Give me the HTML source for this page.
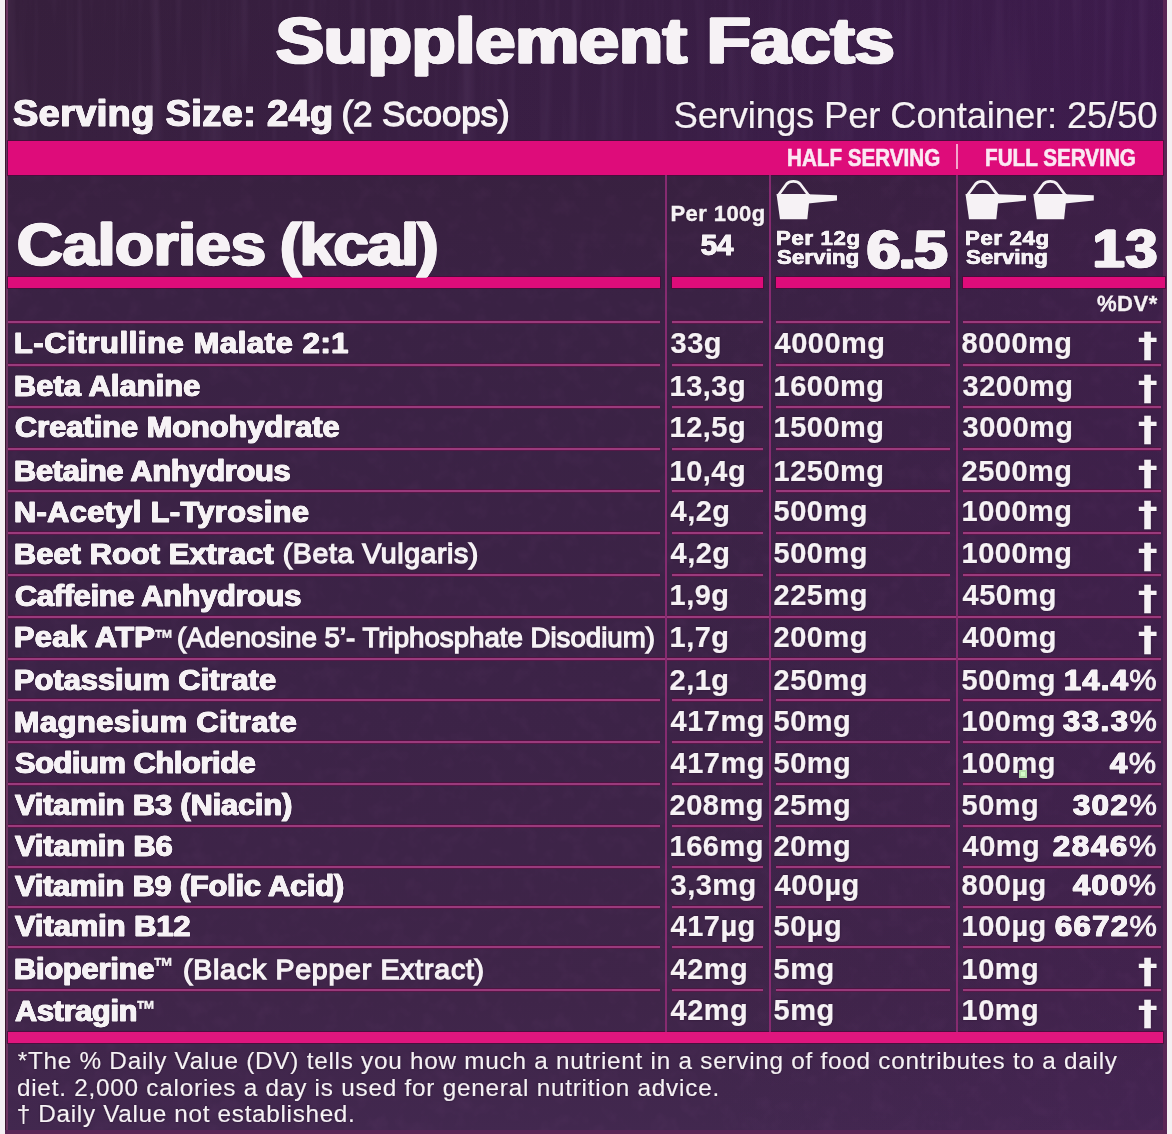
<!DOCTYPE html>
<html><head><meta charset="utf-8"><title>Supplement Facts</title>
<style>
html,body{margin:0;padding:0;}
body{width:1172px;height:1134px;overflow:hidden;background:#f4f0f3;position:relative;font-family:"Liberation Sans",Arial,sans-serif;}
#panel{position:absolute;left:5px;top:0;width:1162px;height:1134px;overflow:hidden;
 background:linear-gradient(180deg,#361f3c 0px,#38203f 140px,#3a2244 300px,#3c2347 700px,#3f2549 1000px,#42284f 1134px);}
#bg1{position:absolute;left:0;top:0;width:1162px;height:1134px;
 background:
  linear-gradient(90deg, rgba(0,0,0,0) 0%, rgba(0,0,0,0) 60%, rgba(80,20,100,0.16) 100%);}
.t{position:absolute;white-space:nowrap;color:#f6f2f5;-webkit-text-stroke-color:#f6f2f5;}
.p{color:#fbe9f3;-webkit-text-stroke-color:#fbe9f3;}
.r{position:absolute;}
.pc{font-weight:400;-webkit-text-stroke-width:0.9px;text-shadow:none;}
</style></head>
<body>
<div id="panel"><div id="bg1"></div>
<svg class="r" style="left:0;top:0" width="1162" height="1134"><defs>
<filter id="fs" x="0" y="0" width="100%" height="100%"><feTurbulence type="fractalNoise" baseFrequency="0.09 0.004" numOctaves="2" seed="7"/><feColorMatrix type="matrix" values="0 0 0 0 0.55  0 0 0 0 0.35  0 0 0 0 0.65  0 0 0 1.1 -0.5"/></filter>
<filter id="fn" x="0" y="0" width="100%" height="100%"><feTurbulence type="fractalNoise" baseFrequency="0.06" numOctaves="3" seed="3"/><feColorMatrix type="matrix" values="0 0 0 0 0.6  0 0 0 0 0.2  0 0 0 0 0.6  0 0 0 0.9 -0.42"/></filter>
</defs>
<rect x="0" y="0" width="1162" height="140" filter="url(#fs)" opacity="0.16"/>
<rect x="0" y="140" width="1162" height="994" filter="url(#fn)" opacity="0.10"/>
</svg><div class="r" style="left:0;top:0;width:1162px;height:141px;background:linear-gradient(90deg,rgba(70,20,110,0) 0%,rgba(70,20,110,0.10) 40%,rgba(70,20,110,0.2) 75%,rgba(70,20,110,0.22) 100%)"></div></div>
<div class="r" style="left:5px;top:0;width:1px;height:1134px;background:#3a1830"></div>
<div class="r" style="left:6px;top:0;width:2px;height:1134px;background:#6a3560"></div>
<div class="r" style="left:1162.5px;top:0;width:4.5px;height:1134px;background:#5a2656"></div>
<div class="r" style="left:5px;top:1130px;width:1162px;height:4px;background:#5a2656"></div>
<div class="r" style="left:8px;top:140.6px;width:1154.50px;height:34.40px;background:#de0c7a;box-shadow:0 0 0 1px rgba(78,8,58,0.75);"></div>
<div class="r" style="left:8px;top:276.5px;width:652.00px;height:11.00px;background:#de0c7a;box-shadow:0 0 0 1px rgba(78,8,58,0.75);"></div>
<div class="r" style="left:672px;top:276.5px;width:91.00px;height:11.00px;background:#de0c7a;box-shadow:0 0 0 1px rgba(78,8,58,0.75);"></div>
<div class="r" style="left:775.5px;top:276.5px;width:174.50px;height:11.00px;background:#de0c7a;box-shadow:0 0 0 1px rgba(78,8,58,0.75);"></div>
<div class="r" style="left:962.5px;top:276.5px;width:202.00px;height:11.00px;background:#de0c7a;box-shadow:0 0 0 1px rgba(78,8,58,0.75);"></div>
<div class="r" style="left:8px;top:1032px;width:1155.00px;height:11.00px;background:#e0167e;box-shadow:0 0 0 1px rgba(78,8,58,0.75);"></div>
<div class="r" style="left:8px;top:320px;width:652.00px;height:1.00px;background:#4e1442;"></div>
<div class="r" style="left:8px;top:321px;width:652.00px;height:2.00px;background:#9a3a7c;"></div>
<div class="r" style="left:8px;top:323px;width:652.00px;height:1.00px;background:#581748;"></div>
<div class="r" style="left:671.5px;top:320px;width:91.50px;height:1.00px;background:#4e1442;"></div>
<div class="r" style="left:671.5px;top:321px;width:91.50px;height:2.00px;background:#9a3a7c;"></div>
<div class="r" style="left:671.5px;top:323px;width:91.50px;height:1.00px;background:#581748;"></div>
<div class="r" style="left:775.5px;top:320px;width:174.50px;height:1.00px;background:#4e1442;"></div>
<div class="r" style="left:775.5px;top:321px;width:174.50px;height:2.00px;background:#9a3a7c;"></div>
<div class="r" style="left:775.5px;top:323px;width:174.50px;height:1.00px;background:#581748;"></div>
<div class="r" style="left:962.5px;top:320px;width:198.50px;height:1.00px;background:#4e1442;"></div>
<div class="r" style="left:962.5px;top:321px;width:198.50px;height:2.00px;background:#9a3a7c;"></div>
<div class="r" style="left:962.5px;top:323px;width:198.50px;height:1.00px;background:#581748;"></div>
<div class="r" style="left:8px;top:363px;width:652.00px;height:1.00px;background:#4e1442;"></div>
<div class="r" style="left:8px;top:364px;width:652.00px;height:2.00px;background:#9a3a7c;"></div>
<div class="r" style="left:8px;top:366px;width:652.00px;height:1.00px;background:#581748;"></div>
<div class="r" style="left:671.5px;top:363px;width:91.50px;height:1.00px;background:#4e1442;"></div>
<div class="r" style="left:671.5px;top:364px;width:91.50px;height:2.00px;background:#9a3a7c;"></div>
<div class="r" style="left:671.5px;top:366px;width:91.50px;height:1.00px;background:#581748;"></div>
<div class="r" style="left:775.5px;top:363px;width:174.50px;height:1.00px;background:#4e1442;"></div>
<div class="r" style="left:775.5px;top:364px;width:174.50px;height:2.00px;background:#9a3a7c;"></div>
<div class="r" style="left:775.5px;top:366px;width:174.50px;height:1.00px;background:#581748;"></div>
<div class="r" style="left:962.5px;top:363px;width:198.50px;height:1.00px;background:#4e1442;"></div>
<div class="r" style="left:962.5px;top:364px;width:198.50px;height:2.00px;background:#9a3a7c;"></div>
<div class="r" style="left:962.5px;top:366px;width:198.50px;height:1.00px;background:#581748;"></div>
<div class="r" style="left:8px;top:405px;width:652.00px;height:1.00px;background:#4e1442;"></div>
<div class="r" style="left:8px;top:406px;width:652.00px;height:2.00px;background:#9a3a7c;"></div>
<div class="r" style="left:8px;top:408px;width:652.00px;height:1.00px;background:#581748;"></div>
<div class="r" style="left:671.5px;top:405px;width:91.50px;height:1.00px;background:#4e1442;"></div>
<div class="r" style="left:671.5px;top:406px;width:91.50px;height:2.00px;background:#9a3a7c;"></div>
<div class="r" style="left:671.5px;top:408px;width:91.50px;height:1.00px;background:#581748;"></div>
<div class="r" style="left:775.5px;top:405px;width:174.50px;height:1.00px;background:#4e1442;"></div>
<div class="r" style="left:775.5px;top:406px;width:174.50px;height:2.00px;background:#9a3a7c;"></div>
<div class="r" style="left:775.5px;top:408px;width:174.50px;height:1.00px;background:#581748;"></div>
<div class="r" style="left:962.5px;top:405px;width:198.50px;height:1.00px;background:#4e1442;"></div>
<div class="r" style="left:962.5px;top:406px;width:198.50px;height:2.00px;background:#9a3a7c;"></div>
<div class="r" style="left:962.5px;top:408px;width:198.50px;height:1.00px;background:#581748;"></div>
<div class="r" style="left:8px;top:447px;width:652.00px;height:1.00px;background:#4e1442;"></div>
<div class="r" style="left:8px;top:448px;width:652.00px;height:2.00px;background:#9a3a7c;"></div>
<div class="r" style="left:8px;top:450px;width:652.00px;height:1.00px;background:#581748;"></div>
<div class="r" style="left:671.5px;top:447px;width:91.50px;height:1.00px;background:#4e1442;"></div>
<div class="r" style="left:671.5px;top:448px;width:91.50px;height:2.00px;background:#9a3a7c;"></div>
<div class="r" style="left:671.5px;top:450px;width:91.50px;height:1.00px;background:#581748;"></div>
<div class="r" style="left:775.5px;top:447px;width:174.50px;height:1.00px;background:#4e1442;"></div>
<div class="r" style="left:775.5px;top:448px;width:174.50px;height:2.00px;background:#9a3a7c;"></div>
<div class="r" style="left:775.5px;top:450px;width:174.50px;height:1.00px;background:#581748;"></div>
<div class="r" style="left:962.5px;top:447px;width:198.50px;height:1.00px;background:#4e1442;"></div>
<div class="r" style="left:962.5px;top:448px;width:198.50px;height:2.00px;background:#9a3a7c;"></div>
<div class="r" style="left:962.5px;top:450px;width:198.50px;height:1.00px;background:#581748;"></div>
<div class="r" style="left:8px;top:489px;width:652.00px;height:1.00px;background:#4e1442;"></div>
<div class="r" style="left:8px;top:490px;width:652.00px;height:2.00px;background:#9a3a7c;"></div>
<div class="r" style="left:8px;top:492px;width:652.00px;height:1.00px;background:#581748;"></div>
<div class="r" style="left:671.5px;top:489px;width:91.50px;height:1.00px;background:#4e1442;"></div>
<div class="r" style="left:671.5px;top:490px;width:91.50px;height:2.00px;background:#9a3a7c;"></div>
<div class="r" style="left:671.5px;top:492px;width:91.50px;height:1.00px;background:#581748;"></div>
<div class="r" style="left:775.5px;top:489px;width:174.50px;height:1.00px;background:#4e1442;"></div>
<div class="r" style="left:775.5px;top:490px;width:174.50px;height:2.00px;background:#9a3a7c;"></div>
<div class="r" style="left:775.5px;top:492px;width:174.50px;height:1.00px;background:#581748;"></div>
<div class="r" style="left:962.5px;top:489px;width:198.50px;height:1.00px;background:#4e1442;"></div>
<div class="r" style="left:962.5px;top:490px;width:198.50px;height:2.00px;background:#9a3a7c;"></div>
<div class="r" style="left:962.5px;top:492px;width:198.50px;height:1.00px;background:#581748;"></div>
<div class="r" style="left:8px;top:531px;width:652.00px;height:1.00px;background:#4e1442;"></div>
<div class="r" style="left:8px;top:532px;width:652.00px;height:2.00px;background:#9a3a7c;"></div>
<div class="r" style="left:8px;top:534px;width:652.00px;height:1.00px;background:#581748;"></div>
<div class="r" style="left:671.5px;top:531px;width:91.50px;height:1.00px;background:#4e1442;"></div>
<div class="r" style="left:671.5px;top:532px;width:91.50px;height:2.00px;background:#9a3a7c;"></div>
<div class="r" style="left:671.5px;top:534px;width:91.50px;height:1.00px;background:#581748;"></div>
<div class="r" style="left:775.5px;top:531px;width:174.50px;height:1.00px;background:#4e1442;"></div>
<div class="r" style="left:775.5px;top:532px;width:174.50px;height:2.00px;background:#9a3a7c;"></div>
<div class="r" style="left:775.5px;top:534px;width:174.50px;height:1.00px;background:#581748;"></div>
<div class="r" style="left:962.5px;top:531px;width:198.50px;height:1.00px;background:#4e1442;"></div>
<div class="r" style="left:962.5px;top:532px;width:198.50px;height:2.00px;background:#9a3a7c;"></div>
<div class="r" style="left:962.5px;top:534px;width:198.50px;height:1.00px;background:#581748;"></div>
<div class="r" style="left:8px;top:573px;width:652.00px;height:1.00px;background:#4e1442;"></div>
<div class="r" style="left:8px;top:574px;width:652.00px;height:2.00px;background:#9a3a7c;"></div>
<div class="r" style="left:8px;top:576px;width:652.00px;height:1.00px;background:#581748;"></div>
<div class="r" style="left:671.5px;top:573px;width:91.50px;height:1.00px;background:#4e1442;"></div>
<div class="r" style="left:671.5px;top:574px;width:91.50px;height:2.00px;background:#9a3a7c;"></div>
<div class="r" style="left:671.5px;top:576px;width:91.50px;height:1.00px;background:#581748;"></div>
<div class="r" style="left:775.5px;top:573px;width:174.50px;height:1.00px;background:#4e1442;"></div>
<div class="r" style="left:775.5px;top:574px;width:174.50px;height:2.00px;background:#9a3a7c;"></div>
<div class="r" style="left:775.5px;top:576px;width:174.50px;height:1.00px;background:#581748;"></div>
<div class="r" style="left:962.5px;top:573px;width:198.50px;height:1.00px;background:#4e1442;"></div>
<div class="r" style="left:962.5px;top:574px;width:198.50px;height:2.00px;background:#9a3a7c;"></div>
<div class="r" style="left:962.5px;top:576px;width:198.50px;height:1.00px;background:#581748;"></div>
<div class="r" style="left:8px;top:615px;width:1153.00px;height:1.00px;background:#4e1442;"></div>
<div class="r" style="left:8px;top:616px;width:1153.00px;height:2.00px;background:#9a3a7c;"></div>
<div class="r" style="left:8px;top:618px;width:1153.00px;height:1.00px;background:#581748;"></div>
<div class="r" style="left:8px;top:657px;width:1153.00px;height:1.00px;background:#4e1442;"></div>
<div class="r" style="left:8px;top:658px;width:1153.00px;height:2.00px;background:#9a3a7c;"></div>
<div class="r" style="left:8px;top:660px;width:1153.00px;height:1.00px;background:#581748;"></div>
<div class="r" style="left:8px;top:698px;width:652.00px;height:1.00px;background:#4e1442;"></div>
<div class="r" style="left:8px;top:699px;width:652.00px;height:2.00px;background:#9a3a7c;"></div>
<div class="r" style="left:8px;top:701px;width:652.00px;height:1.00px;background:#581748;"></div>
<div class="r" style="left:671.5px;top:698px;width:91.50px;height:1.00px;background:#4e1442;"></div>
<div class="r" style="left:671.5px;top:699px;width:91.50px;height:2.00px;background:#9a3a7c;"></div>
<div class="r" style="left:671.5px;top:701px;width:91.50px;height:1.00px;background:#581748;"></div>
<div class="r" style="left:775.5px;top:698px;width:174.50px;height:1.00px;background:#4e1442;"></div>
<div class="r" style="left:775.5px;top:699px;width:174.50px;height:2.00px;background:#9a3a7c;"></div>
<div class="r" style="left:775.5px;top:701px;width:174.50px;height:1.00px;background:#581748;"></div>
<div class="r" style="left:962.5px;top:698px;width:198.50px;height:1.00px;background:#4e1442;"></div>
<div class="r" style="left:962.5px;top:699px;width:198.50px;height:2.00px;background:#9a3a7c;"></div>
<div class="r" style="left:962.5px;top:701px;width:198.50px;height:1.00px;background:#581748;"></div>
<div class="r" style="left:8px;top:740px;width:652.00px;height:1.00px;background:#4e1442;"></div>
<div class="r" style="left:8px;top:741px;width:652.00px;height:2.00px;background:#9a3a7c;"></div>
<div class="r" style="left:8px;top:743px;width:652.00px;height:1.00px;background:#581748;"></div>
<div class="r" style="left:671.5px;top:740px;width:91.50px;height:1.00px;background:#4e1442;"></div>
<div class="r" style="left:671.5px;top:741px;width:91.50px;height:2.00px;background:#9a3a7c;"></div>
<div class="r" style="left:671.5px;top:743px;width:91.50px;height:1.00px;background:#581748;"></div>
<div class="r" style="left:775.5px;top:740px;width:174.50px;height:1.00px;background:#4e1442;"></div>
<div class="r" style="left:775.5px;top:741px;width:174.50px;height:2.00px;background:#9a3a7c;"></div>
<div class="r" style="left:775.5px;top:743px;width:174.50px;height:1.00px;background:#581748;"></div>
<div class="r" style="left:962.5px;top:740px;width:198.50px;height:1.00px;background:#4e1442;"></div>
<div class="r" style="left:962.5px;top:741px;width:198.50px;height:2.00px;background:#9a3a7c;"></div>
<div class="r" style="left:962.5px;top:743px;width:198.50px;height:1.00px;background:#581748;"></div>
<div class="r" style="left:8px;top:782px;width:652.00px;height:1.00px;background:#4e1442;"></div>
<div class="r" style="left:8px;top:783px;width:652.00px;height:2.00px;background:#9a3a7c;"></div>
<div class="r" style="left:8px;top:785px;width:652.00px;height:1.00px;background:#581748;"></div>
<div class="r" style="left:671.5px;top:782px;width:91.50px;height:1.00px;background:#4e1442;"></div>
<div class="r" style="left:671.5px;top:783px;width:91.50px;height:2.00px;background:#9a3a7c;"></div>
<div class="r" style="left:671.5px;top:785px;width:91.50px;height:1.00px;background:#581748;"></div>
<div class="r" style="left:775.5px;top:782px;width:174.50px;height:1.00px;background:#4e1442;"></div>
<div class="r" style="left:775.5px;top:783px;width:174.50px;height:2.00px;background:#9a3a7c;"></div>
<div class="r" style="left:775.5px;top:785px;width:174.50px;height:1.00px;background:#581748;"></div>
<div class="r" style="left:962.5px;top:782px;width:198.50px;height:1.00px;background:#4e1442;"></div>
<div class="r" style="left:962.5px;top:783px;width:198.50px;height:2.00px;background:#9a3a7c;"></div>
<div class="r" style="left:962.5px;top:785px;width:198.50px;height:1.00px;background:#581748;"></div>
<div class="r" style="left:8px;top:824px;width:652.00px;height:1.00px;background:#4e1442;"></div>
<div class="r" style="left:8px;top:825px;width:652.00px;height:2.00px;background:#9a3a7c;"></div>
<div class="r" style="left:8px;top:827px;width:652.00px;height:1.00px;background:#581748;"></div>
<div class="r" style="left:671.5px;top:824px;width:91.50px;height:1.00px;background:#4e1442;"></div>
<div class="r" style="left:671.5px;top:825px;width:91.50px;height:2.00px;background:#9a3a7c;"></div>
<div class="r" style="left:671.5px;top:827px;width:91.50px;height:1.00px;background:#581748;"></div>
<div class="r" style="left:775.5px;top:824px;width:174.50px;height:1.00px;background:#4e1442;"></div>
<div class="r" style="left:775.5px;top:825px;width:174.50px;height:2.00px;background:#9a3a7c;"></div>
<div class="r" style="left:775.5px;top:827px;width:174.50px;height:1.00px;background:#581748;"></div>
<div class="r" style="left:962.5px;top:824px;width:198.50px;height:1.00px;background:#4e1442;"></div>
<div class="r" style="left:962.5px;top:825px;width:198.50px;height:2.00px;background:#9a3a7c;"></div>
<div class="r" style="left:962.5px;top:827px;width:198.50px;height:1.00px;background:#581748;"></div>
<div class="r" style="left:8px;top:865px;width:652.00px;height:1.00px;background:#4e1442;"></div>
<div class="r" style="left:8px;top:866px;width:652.00px;height:2.00px;background:#9a3a7c;"></div>
<div class="r" style="left:8px;top:868px;width:652.00px;height:1.00px;background:#581748;"></div>
<div class="r" style="left:671.5px;top:865px;width:91.50px;height:1.00px;background:#4e1442;"></div>
<div class="r" style="left:671.5px;top:866px;width:91.50px;height:2.00px;background:#9a3a7c;"></div>
<div class="r" style="left:671.5px;top:868px;width:91.50px;height:1.00px;background:#581748;"></div>
<div class="r" style="left:775.5px;top:865px;width:174.50px;height:1.00px;background:#4e1442;"></div>
<div class="r" style="left:775.5px;top:866px;width:174.50px;height:2.00px;background:#9a3a7c;"></div>
<div class="r" style="left:775.5px;top:868px;width:174.50px;height:1.00px;background:#581748;"></div>
<div class="r" style="left:962.5px;top:865px;width:198.50px;height:1.00px;background:#4e1442;"></div>
<div class="r" style="left:962.5px;top:866px;width:198.50px;height:2.00px;background:#9a3a7c;"></div>
<div class="r" style="left:962.5px;top:868px;width:198.50px;height:1.00px;background:#581748;"></div>
<div class="r" style="left:8px;top:905px;width:652.00px;height:1.00px;background:#4e1442;"></div>
<div class="r" style="left:8px;top:906px;width:652.00px;height:2.00px;background:#9a3a7c;"></div>
<div class="r" style="left:8px;top:908px;width:652.00px;height:1.00px;background:#581748;"></div>
<div class="r" style="left:671.5px;top:905px;width:91.50px;height:1.00px;background:#4e1442;"></div>
<div class="r" style="left:671.5px;top:906px;width:91.50px;height:2.00px;background:#9a3a7c;"></div>
<div class="r" style="left:671.5px;top:908px;width:91.50px;height:1.00px;background:#581748;"></div>
<div class="r" style="left:775.5px;top:905px;width:174.50px;height:1.00px;background:#4e1442;"></div>
<div class="r" style="left:775.5px;top:906px;width:174.50px;height:2.00px;background:#9a3a7c;"></div>
<div class="r" style="left:775.5px;top:908px;width:174.50px;height:1.00px;background:#581748;"></div>
<div class="r" style="left:962.5px;top:905px;width:198.50px;height:1.00px;background:#4e1442;"></div>
<div class="r" style="left:962.5px;top:906px;width:198.50px;height:2.00px;background:#9a3a7c;"></div>
<div class="r" style="left:962.5px;top:908px;width:198.50px;height:1.00px;background:#581748;"></div>
<div class="r" style="left:8px;top:945px;width:652.00px;height:1.00px;background:#4e1442;"></div>
<div class="r" style="left:8px;top:946px;width:652.00px;height:2.00px;background:#9a3a7c;"></div>
<div class="r" style="left:8px;top:948px;width:652.00px;height:1.00px;background:#581748;"></div>
<div class="r" style="left:671.5px;top:945px;width:91.50px;height:1.00px;background:#4e1442;"></div>
<div class="r" style="left:671.5px;top:946px;width:91.50px;height:2.00px;background:#9a3a7c;"></div>
<div class="r" style="left:671.5px;top:948px;width:91.50px;height:1.00px;background:#581748;"></div>
<div class="r" style="left:775.5px;top:945px;width:174.50px;height:1.00px;background:#4e1442;"></div>
<div class="r" style="left:775.5px;top:946px;width:174.50px;height:2.00px;background:#9a3a7c;"></div>
<div class="r" style="left:775.5px;top:948px;width:174.50px;height:1.00px;background:#581748;"></div>
<div class="r" style="left:962.5px;top:945px;width:198.50px;height:1.00px;background:#4e1442;"></div>
<div class="r" style="left:962.5px;top:946px;width:198.50px;height:2.00px;background:#9a3a7c;"></div>
<div class="r" style="left:962.5px;top:948px;width:198.50px;height:1.00px;background:#581748;"></div>
<div class="r" style="left:8px;top:988px;width:652.00px;height:1.00px;background:#4e1442;"></div>
<div class="r" style="left:8px;top:989px;width:652.00px;height:2.00px;background:#9a3a7c;"></div>
<div class="r" style="left:8px;top:991px;width:652.00px;height:1.00px;background:#581748;"></div>
<div class="r" style="left:671.5px;top:988px;width:91.50px;height:1.00px;background:#4e1442;"></div>
<div class="r" style="left:671.5px;top:989px;width:91.50px;height:2.00px;background:#9a3a7c;"></div>
<div class="r" style="left:671.5px;top:991px;width:91.50px;height:1.00px;background:#581748;"></div>
<div class="r" style="left:775.5px;top:988px;width:174.50px;height:1.00px;background:#4e1442;"></div>
<div class="r" style="left:775.5px;top:989px;width:174.50px;height:2.00px;background:#9a3a7c;"></div>
<div class="r" style="left:775.5px;top:991px;width:174.50px;height:1.00px;background:#581748;"></div>
<div class="r" style="left:962.5px;top:988px;width:198.50px;height:1.00px;background:#4e1442;"></div>
<div class="r" style="left:962.5px;top:989px;width:198.50px;height:2.00px;background:#9a3a7c;"></div>
<div class="r" style="left:962.5px;top:991px;width:198.50px;height:1.00px;background:#581748;"></div>
<div class="r" style="left:664.5999999999999px;top:175px;width:2.40px;height:857.00px;background:#862b70;"></div>
<div class="r" style="left:768.5px;top:175px;width:2.40px;height:857.00px;background:#862b70;"></div>
<div class="r" style="left:955.5999999999999px;top:175px;width:2.40px;height:857.00px;background:#862b70;"></div>
<div class="r" style="left:956px;top:144px;width:1.50px;height:25.00px;background:#f3a6cc;"></div>
<svg class="r" style="left:0;top:0" width="1172" height="300" viewBox="0 0 1172 300"><path d="M776.5,194 L810,194 L807.3,219.3 L780,219.3 Z" fill="#f6f2f5"/>
<path d="M808,194.3 L837,195.2 L837,200.6 L808,203.6 Z" fill="#f6f2f5"/>
<path d="M778.2,195.5 L786.6,184 C789.5,180.6 797.3,180.6 800.2,184 L808.8,195.5" fill="none" stroke="#f6f2f5" stroke-width="2.8" stroke-linejoin="round"/><path d="M965.5,194 L999,194 L996.3,219.3 L969,219.3 Z" fill="#f6f2f5"/>
<path d="M997,194.3 L1026,195.2 L1026,200.6 L997,203.6 Z" fill="#f6f2f5"/>
<path d="M967.2,195.5 L975.6,184 C978.5,180.6 986.3,180.6 989.2,184 L997.8,195.5" fill="none" stroke="#f6f2f5" stroke-width="2.8" stroke-linejoin="round"/><path d="M1033.3,194 L1066.8,194 L1064.1,219.3 L1036.8,219.3 Z" fill="#f6f2f5"/>
<path d="M1064.8,194.3 L1093.8,195.2 L1093.8,200.6 L1064.8,203.6 Z" fill="#f6f2f5"/>
<path d="M1035.0,195.5 L1043.4,184 C1046.3,180.6 1054.1,180.6 1057.0,184 L1065.6,195.5" fill="none" stroke="#f6f2f5" stroke-width="2.8" stroke-linejoin="round"/></svg>
<div class="t" style="left:276.00px;top:8.82px;font-size:64px;line-height:64px;font-weight:700;letter-spacing:0.061px;-webkit-text-stroke-width:1.6px;text-shadow:0.50px 0 0 currentColor,-0.50px 0 0 currentColor,1.00px 0 0 currentColor,-1.00px 0 0 currentColor,1.50px 0 0 currentColor,-1.50px 0 0 currentColor,1.70px 0 0 currentColor,-1.70px 0 0 currentColor,0 0 2px rgba(22,6,26,0.55);display:inline-block;transform:scaleX(1.1200);transform-origin:0 50%;">Supplement Facts</div>
<div class="t" style="left:13.30px;top:95.53px;font-size:36px;line-height:36px;font-weight:700;letter-spacing:0.424px;-webkit-text-stroke-width:1.1px;text-shadow:0.50px 0 0 currentColor,-0.50px 0 0 currentColor,0.60px 0 0 currentColor,-0.60px 0 0 currentColor,0 0 2px rgba(22,6,26,0.55);display:inline-block;transform:scaleX(1.0500);transform-origin:0 50%;">Serving Size: 24g</div>
<div class="t" style="left:341.60px;top:96.37px;font-size:35px;line-height:35px;font-weight:400;letter-spacing:-0.133px;-webkit-text-stroke-width:1.3px;text-shadow:0 0 2px rgba(22,6,26,0.55);">(2 Scoops)</div>
<div class="t" style="left:673.50px;top:97.90px;font-size:36.5px;line-height:36.5px;font-weight:400;letter-spacing:-0.175px;-webkit-text-stroke-width:0.2px;text-shadow:0 0 2px rgba(22,6,26,0.55);">Servings Per Container: 25/50</div>
<div class="t p" style="left:786.60px;top:146.21px;font-size:24.8px;line-height:24.8px;font-weight:700;-webkit-text-stroke-width:0.6px;display:inline-block;transform:scaleX(0.8319);transform-origin:0 50%;">HALF SERVING</div>
<div class="t p" style="left:985.20px;top:146.21px;font-size:24.8px;line-height:24.8px;font-weight:700;-webkit-text-stroke-width:0.6px;display:inline-block;transform:scaleX(0.8341);transform-origin:0 50%;">FULL SERVING</div>
<div class="t" style="left:16.70px;top:214.71px;font-size:60px;line-height:60px;font-weight:700;letter-spacing:-0.267px;-webkit-text-stroke-width:1.4px;text-shadow:0.50px 0 0 currentColor,-0.50px 0 0 currentColor,1.00px 0 0 currentColor,-1.00px 0 0 currentColor,1.40px 0 0 currentColor,-1.40px 0 0 currentColor,0 0 2px rgba(22,6,26,0.55);display:inline-block;transform:scaleX(1.0600);transform-origin:0 50%;">Calories</div>
<div class="t" style="left:279.60px;top:214.71px;font-size:60px;line-height:60px;font-weight:700;letter-spacing:-1.440px;-webkit-text-stroke-width:1.4px;text-shadow:0.50px 0 0 currentColor,-0.50px 0 0 currentColor,1.00px 0 0 currentColor,-1.00px 0 0 currentColor,1.40px 0 0 currentColor,-1.40px 0 0 currentColor,0 0 2px rgba(22,6,26,0.55);display:inline-block;transform:scaleX(1.0600);transform-origin:0 50%;">(kcal)</div>
<div class="t" style="left:670.50px;top:203.38px;font-size:22px;line-height:22px;font-weight:700;letter-spacing:0.414px;-webkit-text-stroke-width:0.4px;text-shadow:0 0 2px rgba(22,6,26,0.55);">Per 100g</div>
<div class="t" style="left:700.60px;top:229.60px;font-size:30px;line-height:30px;font-weight:700;letter-spacing:-0.600px;-webkit-text-stroke-width:0.8px;text-shadow:0.40px 0 0 currentColor,-0.40px 0 0 currentColor,0 0 2px rgba(22,6,26,0.55);">54</div>
<div class="t" style="left:776.00px;top:227.65px;font-size:20.5px;line-height:20.5px;font-weight:700;letter-spacing:0.615px;-webkit-text-stroke-width:0.6px;text-shadow:0.30px 0 0 currentColor,-0.30px 0 0 currentColor,0 0 2px rgba(22,6,26,0.55);display:inline-block;transform:scaleX(1.0800);transform-origin:0 50%;">Per 12g</div>
<div class="t" style="left:777.00px;top:247.35px;font-size:20.5px;line-height:20.5px;font-weight:700;letter-spacing:0.154px;-webkit-text-stroke-width:0.6px;text-shadow:0.30px 0 0 currentColor,-0.30px 0 0 currentColor,0 0 2px rgba(22,6,26,0.55);display:inline-block;transform:scaleX(1.0800);transform-origin:0 50%;">Serving</div>
<div class="t" style="left:867.40px;top:221.59px;font-size:54px;line-height:54px;font-weight:700;letter-spacing:-1.000px;-webkit-text-stroke-width:1.6px;text-shadow:0.50px 0 0 currentColor,-0.50px 0 0 currentColor,1.00px 0 0 currentColor,-1.00px 0 0 currentColor,1.50px 0 0 currentColor,-1.50px 0 0 currentColor,1.60px 0 0 currentColor,-1.60px 0 0 currentColor,0 0 2px rgba(22,6,26,0.55);display:inline-block;transform:scaleX(1.1000);transform-origin:0 50%;">6.5</div>
<div class="t" style="left:965.30px;top:227.65px;font-size:20.5px;line-height:20.5px;font-weight:700;letter-spacing:0.631px;-webkit-text-stroke-width:0.6px;text-shadow:0.30px 0 0 currentColor,-0.30px 0 0 currentColor,0 0 2px rgba(22,6,26,0.55);display:inline-block;transform:scaleX(1.0800);transform-origin:0 50%;">Per 24g</div>
<div class="t" style="left:966.00px;top:247.35px;font-size:20.5px;line-height:20.5px;font-weight:700;letter-spacing:0.077px;-webkit-text-stroke-width:0.6px;text-shadow:0.30px 0 0 currentColor,-0.30px 0 0 currentColor,0 0 2px rgba(22,6,26,0.55);display:inline-block;transform:scaleX(1.0800);transform-origin:0 50%;">Serving</div>
<div class="t" style="left:1093.20px;top:220.59px;font-size:54px;line-height:54px;font-weight:700;letter-spacing:1.500px;-webkit-text-stroke-width:1.6px;text-shadow:0.50px 0 0 currentColor,-0.50px 0 0 currentColor,1.00px 0 0 currentColor,-1.00px 0 0 currentColor,1.50px 0 0 currentColor,-1.50px 0 0 currentColor,1.60px 0 0 currentColor,-1.60px 0 0 currentColor,0 0 2px rgba(22,6,26,0.55);display:inline-block;transform:scaleX(1.0400);transform-origin:0 50%;">13</div>
<div class="t" style="left:1097.00px;top:293.38px;font-size:22px;line-height:22px;font-weight:700;letter-spacing:0.533px;-webkit-text-stroke-width:0.3px;text-shadow:0 0 2px rgba(22,6,26,0.55);"><span class=pc>%</span>DV*</div>
<div class="t" style="left:13.80px;top:328.33px;font-size:29.5px;line-height:29.5px;font-weight:700;letter-spacing:0.683px;-webkit-text-stroke-width:0.8px;text-shadow:0.50px 0 0 currentColor,-0.50px 0 0 currentColor,0.60px 0 0 currentColor,-0.60px 0 0 currentColor,0 0 2px rgba(22,6,26,0.55);display:inline-block;transform:scaleX(1.0400);transform-origin:0 50%;">L-Citrulline Malate 2:1</div>
<div class="t" style="left:13.80px;top:371.23px;font-size:29.5px;line-height:29.5px;font-weight:700;letter-spacing:0.136px;-webkit-text-stroke-width:0.8px;text-shadow:0.50px 0 0 currentColor,-0.50px 0 0 currentColor,0.60px 0 0 currentColor,-0.60px 0 0 currentColor,0 0 2px rgba(22,6,26,0.55);display:inline-block;transform:scaleX(1.0400);transform-origin:0 50%;">Beta Alanine</div>
<div class="t" style="left:14.80px;top:412.23px;font-size:29.5px;line-height:29.5px;font-weight:700;letter-spacing:0.036px;-webkit-text-stroke-width:0.8px;text-shadow:0.50px 0 0 currentColor,-0.50px 0 0 currentColor,0.60px 0 0 currentColor,-0.60px 0 0 currentColor,0 0 2px rgba(22,6,26,0.55);display:inline-block;transform:scaleX(1.0400);transform-origin:0 50%;">Creatine Monohydrate</div>
<div class="t" style="left:13.80px;top:456.23px;font-size:29.5px;line-height:29.5px;font-weight:700;letter-spacing:-0.212px;-webkit-text-stroke-width:0.8px;text-shadow:0.50px 0 0 currentColor,-0.50px 0 0 currentColor,0.60px 0 0 currentColor,-0.60px 0 0 currentColor,0 0 2px rgba(22,6,26,0.55);display:inline-block;transform:scaleX(1.0400);transform-origin:0 50%;">Betaine Anhydrous</div>
<div class="t" style="left:13.80px;top:496.83px;font-size:29.5px;line-height:29.5px;font-weight:700;letter-spacing:0.395px;-webkit-text-stroke-width:0.8px;text-shadow:0.50px 0 0 currentColor,-0.50px 0 0 currentColor,0.60px 0 0 currentColor,-0.60px 0 0 currentColor,0 0 2px rgba(22,6,26,0.55);display:inline-block;transform:scaleX(1.0400);transform-origin:0 50%;">N-Acetyl L-Tyrosine</div>
<div class="t" style="left:13.80px;top:538.53px;font-size:29.5px;line-height:29.5px;font-weight:700;letter-spacing:0.133px;-webkit-text-stroke-width:0.8px;text-shadow:0.50px 0 0 currentColor,-0.50px 0 0 currentColor,0.60px 0 0 currentColor,-0.60px 0 0 currentColor,0 0 2px rgba(22,6,26,0.55);display:inline-block;transform:scaleX(1.0400);transform-origin:0 50%;">Beet Root Extract</div>
<div class="t" style="left:14.80px;top:580.83px;font-size:29.5px;line-height:29.5px;font-weight:700;letter-spacing:-0.229px;-webkit-text-stroke-width:0.8px;text-shadow:0.50px 0 0 currentColor,-0.50px 0 0 currentColor,0.60px 0 0 currentColor,-0.60px 0 0 currentColor,0 0 2px rgba(22,6,26,0.55);display:inline-block;transform:scaleX(1.0400);transform-origin:0 50%;">Caffeine Anhydrous</div>
<div class="t" style="left:13.80px;top:622.43px;font-size:29.5px;line-height:29.5px;font-weight:700;letter-spacing:0.371px;-webkit-text-stroke-width:0.8px;text-shadow:0.50px 0 0 currentColor,-0.50px 0 0 currentColor,0.60px 0 0 currentColor,-0.60px 0 0 currentColor,0 0 2px rgba(22,6,26,0.55);display:inline-block;transform:scaleX(1.0400);transform-origin:0 50%;">Peak ATP</div>
<div class="t" style="left:13.80px;top:665.23px;font-size:29.5px;line-height:29.5px;font-weight:700;letter-spacing:0.073px;-webkit-text-stroke-width:0.8px;text-shadow:0.50px 0 0 currentColor,-0.50px 0 0 currentColor,0.60px 0 0 currentColor,-0.60px 0 0 currentColor,0 0 2px rgba(22,6,26,0.55);display:inline-block;transform:scaleX(1.0400);transform-origin:0 50%;">Potassium Citrate</div>
<div class="t" style="left:13.80px;top:706.73px;font-size:29.5px;line-height:29.5px;font-weight:700;letter-spacing:0.500px;-webkit-text-stroke-width:0.8px;text-shadow:0.50px 0 0 currentColor,-0.50px 0 0 currentColor,0.60px 0 0 currentColor,-0.60px 0 0 currentColor,0 0 2px rgba(22,6,26,0.55);display:inline-block;transform:scaleX(1.0400);transform-origin:0 50%;">Magnesium Citrate</div>
<div class="t" style="left:14.80px;top:748.13px;font-size:29.5px;line-height:29.5px;font-weight:700;letter-spacing:-0.324px;-webkit-text-stroke-width:0.8px;text-shadow:0.50px 0 0 currentColor,-0.50px 0 0 currentColor,0.60px 0 0 currentColor,-0.60px 0 0 currentColor,0 0 2px rgba(22,6,26,0.55);display:inline-block;transform:scaleX(1.0400);transform-origin:0 50%;">Sodium Chloride</div>
<div class="t" style="left:14.80px;top:790.33px;font-size:29.5px;line-height:29.5px;font-weight:700;letter-spacing:-0.095px;-webkit-text-stroke-width:0.8px;text-shadow:0.50px 0 0 currentColor,-0.50px 0 0 currentColor,0.60px 0 0 currentColor,-0.60px 0 0 currentColor,0 0 2px rgba(22,6,26,0.55);display:inline-block;transform:scaleX(1.0400);transform-origin:0 50%;">Vitamin B3 (Niacin)</div>
<div class="t" style="left:14.80px;top:831.23px;font-size:29.5px;line-height:29.5px;font-weight:700;letter-spacing:-0.042px;-webkit-text-stroke-width:0.8px;text-shadow:0.50px 0 0 currentColor,-0.50px 0 0 currentColor,0.60px 0 0 currentColor,-0.60px 0 0 currentColor,0 0 2px rgba(22,6,26,0.55);display:inline-block;transform:scaleX(1.0400);transform-origin:0 50%;">Vitamin B6</div>
<div class="t" style="left:14.80px;top:870.53px;font-size:29.5px;line-height:29.5px;font-weight:700;letter-spacing:-0.143px;-webkit-text-stroke-width:0.8px;text-shadow:0.50px 0 0 currentColor,-0.50px 0 0 currentColor,0.60px 0 0 currentColor,-0.60px 0 0 currentColor,0 0 2px rgba(22,6,26,0.55);display:inline-block;transform:scaleX(1.0400);transform-origin:0 50%;">Vitamin B9 (Folic Acid)</div>
<div class="t" style="left:14.80px;top:911.13px;font-size:29.5px;line-height:29.5px;font-weight:700;letter-spacing:0.048px;-webkit-text-stroke-width:0.8px;text-shadow:0.50px 0 0 currentColor,-0.50px 0 0 currentColor,0.60px 0 0 currentColor,-0.60px 0 0 currentColor,0 0 2px rgba(22,6,26,0.55);display:inline-block;transform:scaleX(1.0400);transform-origin:0 50%;">Vitamin B12</div>
<div class="t" style="left:13.80px;top:954.23px;font-size:29.5px;line-height:29.5px;font-weight:700;letter-spacing:-0.141px;-webkit-text-stroke-width:0.8px;text-shadow:0.50px 0 0 currentColor,-0.50px 0 0 currentColor,0.60px 0 0 currentColor,-0.60px 0 0 currentColor,0 0 2px rgba(22,6,26,0.55);display:inline-block;transform:scaleX(1.0400);transform-origin:0 50%;">Bioperine</div>
<div class="t" style="left:14.80px;top:996.03px;font-size:29.5px;line-height:29.5px;font-weight:700;letter-spacing:-0.280px;-webkit-text-stroke-width:0.8px;text-shadow:0.50px 0 0 currentColor,-0.50px 0 0 currentColor,0.60px 0 0 currentColor,-0.60px 0 0 currentColor,0 0 2px rgba(22,6,26,0.55);display:inline-block;transform:scaleX(1.0400);transform-origin:0 50%;">Astragin</div>
<div class="t" style="left:282.80px;top:539.37px;font-size:28.5px;line-height:28.5px;font-weight:400;letter-spacing:0.579px;-webkit-text-stroke-width:1.35px;text-shadow:0 0 2px rgba(22,6,26,0.55);">(Beta Vulgaris)</div>
<div class="t" style="left:177.40px;top:623.27px;font-size:28.5px;line-height:28.5px;font-weight:400;-webkit-text-stroke-width:1.35px;text-shadow:0 0 2px rgba(22,6,26,0.55);display:inline-block;transform:scaleX(0.9701);transform-origin:0 50%;">(Adenosine 5’- Triphosphate Disodium)</div>
<div class="t" style="left:183.00px;top:955.07px;font-size:28.5px;line-height:28.5px;font-weight:400;letter-spacing:0.762px;-webkit-text-stroke-width:1.35px;text-shadow:0 0 2px rgba(22,6,26,0.55);">(Black Pepper Extract)</div>
<div class="t" style="left:154.30px;top:625.50px;font-size:25px;line-height:25px;font-weight:700;-webkit-text-stroke-width:0.5px;text-shadow:0 0 2px rgba(22,6,26,0.55);display:inline-block;transform:scaleX(0.7773);transform-origin:0 50%;">™</div>
<div class="t" style="left:153.40px;top:953.70px;font-size:25px;line-height:25px;font-weight:700;-webkit-text-stroke-width:0.5px;text-shadow:0 0 2px rgba(22,6,26,0.55);display:inline-block;transform:scaleX(0.8182);transform-origin:0 50%;">™</div>
<div class="t" style="left:135.50px;top:997.20px;font-size:25px;line-height:25px;font-weight:700;-webkit-text-stroke-width:0.5px;text-shadow:0 0 2px rgba(22,6,26,0.55);display:inline-block;transform:scaleX(0.7773);transform-origin:0 50%;">™</div>
<div class="t" style="left:670.50px;top:328.75px;font-size:29px;line-height:29px;font-weight:700;letter-spacing:0.500px;-webkit-text-stroke-width:0.2px;text-shadow:0 0 2px rgba(22,6,26,0.55);">33g</div>
<div class="t" style="left:774.50px;top:328.75px;font-size:29px;line-height:29px;font-weight:700;letter-spacing:0.500px;-webkit-text-stroke-width:0.2px;text-shadow:0 0 2px rgba(22,6,26,0.55);">4000mg</div>
<div class="t" style="left:961.50px;top:328.75px;font-size:29px;line-height:29px;font-weight:700;letter-spacing:0.500px;-webkit-text-stroke-width:0.2px;text-shadow:0 0 2px rgba(22,6,26,0.55);">8000mg</div>
<div class="t" style="left:1137.70px;top:328.30px;font-size:34px;line-height:34px;font-weight:700;font-family:'DejaVu Sans',sans-serif;-webkit-text-stroke-width:0.3px;text-shadow:0 0 2px rgba(22,6,26,0.55);display:inline-block;transform:scaleX(1.1400);transform-origin:0 50%;">†</div>
<div class="t" style="left:669.50px;top:371.65px;font-size:29px;line-height:29px;font-weight:700;letter-spacing:0.500px;-webkit-text-stroke-width:0.2px;text-shadow:0 0 2px rgba(22,6,26,0.55);">13,3g</div>
<div class="t" style="left:773.50px;top:371.65px;font-size:29px;line-height:29px;font-weight:700;letter-spacing:0.500px;-webkit-text-stroke-width:0.2px;text-shadow:0 0 2px rgba(22,6,26,0.55);">1600mg</div>
<div class="t" style="left:962.50px;top:371.65px;font-size:29px;line-height:29px;font-weight:700;letter-spacing:0.500px;-webkit-text-stroke-width:0.2px;text-shadow:0 0 2px rgba(22,6,26,0.55);">3200mg</div>
<div class="t" style="left:1137.70px;top:371.20px;font-size:34px;line-height:34px;font-weight:700;font-family:'DejaVu Sans',sans-serif;-webkit-text-stroke-width:0.3px;text-shadow:0 0 2px rgba(22,6,26,0.55);display:inline-block;transform:scaleX(1.1400);transform-origin:0 50%;">†</div>
<div class="t" style="left:669.50px;top:412.65px;font-size:29px;line-height:29px;font-weight:700;letter-spacing:0.500px;-webkit-text-stroke-width:0.2px;text-shadow:0 0 2px rgba(22,6,26,0.55);">12,5g</div>
<div class="t" style="left:773.50px;top:412.65px;font-size:29px;line-height:29px;font-weight:700;letter-spacing:0.500px;-webkit-text-stroke-width:0.2px;text-shadow:0 0 2px rgba(22,6,26,0.55);">1500mg</div>
<div class="t" style="left:962.50px;top:412.65px;font-size:29px;line-height:29px;font-weight:700;letter-spacing:0.500px;-webkit-text-stroke-width:0.2px;text-shadow:0 0 2px rgba(22,6,26,0.55);">3000mg</div>
<div class="t" style="left:1137.70px;top:412.20px;font-size:34px;line-height:34px;font-weight:700;font-family:'DejaVu Sans',sans-serif;-webkit-text-stroke-width:0.3px;text-shadow:0 0 2px rgba(22,6,26,0.55);display:inline-block;transform:scaleX(1.1400);transform-origin:0 50%;">†</div>
<div class="t" style="left:669.50px;top:456.65px;font-size:29px;line-height:29px;font-weight:700;letter-spacing:0.500px;-webkit-text-stroke-width:0.2px;text-shadow:0 0 2px rgba(22,6,26,0.55);">10,4g</div>
<div class="t" style="left:773.50px;top:456.65px;font-size:29px;line-height:29px;font-weight:700;letter-spacing:0.500px;-webkit-text-stroke-width:0.2px;text-shadow:0 0 2px rgba(22,6,26,0.55);">1250mg</div>
<div class="t" style="left:961.50px;top:456.65px;font-size:29px;line-height:29px;font-weight:700;letter-spacing:0.500px;-webkit-text-stroke-width:0.2px;text-shadow:0 0 2px rgba(22,6,26,0.55);">2500mg</div>
<div class="t" style="left:1137.70px;top:456.20px;font-size:34px;line-height:34px;font-weight:700;font-family:'DejaVu Sans',sans-serif;-webkit-text-stroke-width:0.3px;text-shadow:0 0 2px rgba(22,6,26,0.55);display:inline-block;transform:scaleX(1.1400);transform-origin:0 50%;">†</div>
<div class="t" style="left:670.50px;top:497.25px;font-size:29px;line-height:29px;font-weight:700;letter-spacing:0.500px;-webkit-text-stroke-width:0.2px;text-shadow:0 0 2px rgba(22,6,26,0.55);">4,2g</div>
<div class="t" style="left:773.50px;top:497.25px;font-size:29px;line-height:29px;font-weight:700;letter-spacing:0.500px;-webkit-text-stroke-width:0.2px;text-shadow:0 0 2px rgba(22,6,26,0.55);">500mg</div>
<div class="t" style="left:961.50px;top:497.25px;font-size:29px;line-height:29px;font-weight:700;letter-spacing:0.500px;-webkit-text-stroke-width:0.2px;text-shadow:0 0 2px rgba(22,6,26,0.55);">1000mg</div>
<div class="t" style="left:1137.70px;top:496.80px;font-size:34px;line-height:34px;font-weight:700;font-family:'DejaVu Sans',sans-serif;-webkit-text-stroke-width:0.3px;text-shadow:0 0 2px rgba(22,6,26,0.55);display:inline-block;transform:scaleX(1.1400);transform-origin:0 50%;">†</div>
<div class="t" style="left:670.50px;top:538.95px;font-size:29px;line-height:29px;font-weight:700;letter-spacing:0.500px;-webkit-text-stroke-width:0.2px;text-shadow:0 0 2px rgba(22,6,26,0.55);">4,2g</div>
<div class="t" style="left:773.50px;top:538.95px;font-size:29px;line-height:29px;font-weight:700;letter-spacing:0.500px;-webkit-text-stroke-width:0.2px;text-shadow:0 0 2px rgba(22,6,26,0.55);">500mg</div>
<div class="t" style="left:961.50px;top:538.95px;font-size:29px;line-height:29px;font-weight:700;letter-spacing:0.500px;-webkit-text-stroke-width:0.2px;text-shadow:0 0 2px rgba(22,6,26,0.55);">1000mg</div>
<div class="t" style="left:1137.70px;top:538.50px;font-size:34px;line-height:34px;font-weight:700;font-family:'DejaVu Sans',sans-serif;-webkit-text-stroke-width:0.3px;text-shadow:0 0 2px rgba(22,6,26,0.55);display:inline-block;transform:scaleX(1.1400);transform-origin:0 50%;">†</div>
<div class="t" style="left:669.50px;top:581.25px;font-size:29px;line-height:29px;font-weight:700;letter-spacing:0.500px;-webkit-text-stroke-width:0.2px;text-shadow:0 0 2px rgba(22,6,26,0.55);">1,9g</div>
<div class="t" style="left:773.50px;top:581.25px;font-size:29px;line-height:29px;font-weight:700;letter-spacing:0.500px;-webkit-text-stroke-width:0.2px;text-shadow:0 0 2px rgba(22,6,26,0.55);">225mg</div>
<div class="t" style="left:962.50px;top:581.25px;font-size:29px;line-height:29px;font-weight:700;letter-spacing:0.500px;-webkit-text-stroke-width:0.2px;text-shadow:0 0 2px rgba(22,6,26,0.55);">450mg</div>
<div class="t" style="left:1137.70px;top:580.80px;font-size:34px;line-height:34px;font-weight:700;font-family:'DejaVu Sans',sans-serif;-webkit-text-stroke-width:0.3px;text-shadow:0 0 2px rgba(22,6,26,0.55);display:inline-block;transform:scaleX(1.1400);transform-origin:0 50%;">†</div>
<div class="t" style="left:669.50px;top:622.85px;font-size:29px;line-height:29px;font-weight:700;letter-spacing:0.500px;-webkit-text-stroke-width:0.2px;text-shadow:0 0 2px rgba(22,6,26,0.55);">1,7g</div>
<div class="t" style="left:773.50px;top:622.85px;font-size:29px;line-height:29px;font-weight:700;letter-spacing:0.500px;-webkit-text-stroke-width:0.2px;text-shadow:0 0 2px rgba(22,6,26,0.55);">200mg</div>
<div class="t" style="left:962.50px;top:622.85px;font-size:29px;line-height:29px;font-weight:700;letter-spacing:0.500px;-webkit-text-stroke-width:0.2px;text-shadow:0 0 2px rgba(22,6,26,0.55);">400mg</div>
<div class="t" style="left:1137.70px;top:622.40px;font-size:34px;line-height:34px;font-weight:700;font-family:'DejaVu Sans',sans-serif;-webkit-text-stroke-width:0.3px;text-shadow:0 0 2px rgba(22,6,26,0.55);display:inline-block;transform:scaleX(1.1400);transform-origin:0 50%;">†</div>
<div class="t" style="left:669.50px;top:665.65px;font-size:29px;line-height:29px;font-weight:700;letter-spacing:0.500px;-webkit-text-stroke-width:0.2px;text-shadow:0 0 2px rgba(22,6,26,0.55);">2,1g</div>
<div class="t" style="left:773.50px;top:665.65px;font-size:29px;line-height:29px;font-weight:700;letter-spacing:0.500px;-webkit-text-stroke-width:0.2px;text-shadow:0 0 2px rgba(22,6,26,0.55);">250mg</div>
<div class="t" style="left:961.50px;top:665.65px;font-size:29px;line-height:29px;font-weight:700;letter-spacing:0.500px;-webkit-text-stroke-width:0.2px;text-shadow:0 0 2px rgba(22,6,26,0.55);">500mg</div>
<div class="t" style="left:1064.30px;top:665.65px;font-size:29px;line-height:29px;font-weight:700;letter-spacing:1.267px;-webkit-text-stroke-width:1.0px;text-shadow:0.50px 0 0 currentColor,-0.50px 0 0 currentColor,0.70px 0 0 currentColor,-0.70px 0 0 currentColor,0 0 2px rgba(22,6,26,0.55);display:inline-block;transform:scaleX(1.0600);transform-origin:0 50%;">14.4<span class=pc>%</span></div>
<div class="t" style="left:670.50px;top:707.15px;font-size:29px;line-height:29px;font-weight:700;letter-spacing:0.500px;-webkit-text-stroke-width:0.2px;text-shadow:0 0 2px rgba(22,6,26,0.55);">417mg</div>
<div class="t" style="left:773.50px;top:707.15px;font-size:29px;line-height:29px;font-weight:700;letter-spacing:0.500px;-webkit-text-stroke-width:0.2px;text-shadow:0 0 2px rgba(22,6,26,0.55);">50mg</div>
<div class="t" style="left:961.50px;top:707.15px;font-size:29px;line-height:29px;font-weight:700;letter-spacing:0.500px;-webkit-text-stroke-width:0.2px;text-shadow:0 0 2px rgba(22,6,26,0.55);">100mg</div>
<div class="t" style="left:1063.30px;top:707.15px;font-size:29px;line-height:29px;font-weight:700;letter-spacing:1.600px;-webkit-text-stroke-width:1.0px;text-shadow:0.50px 0 0 currentColor,-0.50px 0 0 currentColor,0.70px 0 0 currentColor,-0.70px 0 0 currentColor,0 0 2px rgba(22,6,26,0.55);display:inline-block;transform:scaleX(1.0600);transform-origin:0 50%;">33.3<span class=pc>%</span></div>
<div class="t" style="left:670.50px;top:748.55px;font-size:29px;line-height:29px;font-weight:700;letter-spacing:0.500px;-webkit-text-stroke-width:0.2px;text-shadow:0 0 2px rgba(22,6,26,0.55);">417mg</div>
<div class="t" style="left:773.50px;top:748.55px;font-size:29px;line-height:29px;font-weight:700;letter-spacing:0.500px;-webkit-text-stroke-width:0.2px;text-shadow:0 0 2px rgba(22,6,26,0.55);">50mg</div>
<div class="t" style="left:961.50px;top:748.55px;font-size:29px;line-height:29px;font-weight:700;letter-spacing:0.500px;-webkit-text-stroke-width:0.2px;text-shadow:0 0 2px rgba(22,6,26,0.55);">100mg</div>
<div class="t" style="left:1110.30px;top:748.55px;font-size:29px;line-height:29px;font-weight:700;letter-spacing:1.600px;-webkit-text-stroke-width:1.0px;text-shadow:0.50px 0 0 currentColor,-0.50px 0 0 currentColor,0.70px 0 0 currentColor,-0.70px 0 0 currentColor,0 0 2px rgba(22,6,26,0.55);display:inline-block;transform:scaleX(1.0600);transform-origin:0 50%;">4<span class=pc>%</span></div>
<div class="t" style="left:669.50px;top:790.75px;font-size:29px;line-height:29px;font-weight:700;letter-spacing:0.500px;-webkit-text-stroke-width:0.2px;text-shadow:0 0 2px rgba(22,6,26,0.55);">208mg</div>
<div class="t" style="left:773.50px;top:790.75px;font-size:29px;line-height:29px;font-weight:700;letter-spacing:0.500px;-webkit-text-stroke-width:0.2px;text-shadow:0 0 2px rgba(22,6,26,0.55);">25mg</div>
<div class="t" style="left:961.50px;top:790.75px;font-size:29px;line-height:29px;font-weight:700;letter-spacing:0.500px;-webkit-text-stroke-width:0.2px;text-shadow:0 0 2px rgba(22,6,26,0.55);">50mg</div>
<div class="t" style="left:1073.30px;top:790.75px;font-size:29px;line-height:29px;font-weight:700;letter-spacing:1.600px;-webkit-text-stroke-width:1.0px;text-shadow:0.50px 0 0 currentColor,-0.50px 0 0 currentColor,0.70px 0 0 currentColor,-0.70px 0 0 currentColor,0 0 2px rgba(22,6,26,0.55);display:inline-block;transform:scaleX(1.0600);transform-origin:0 50%;">302<span class=pc>%</span></div>
<div class="t" style="left:669.50px;top:831.65px;font-size:29px;line-height:29px;font-weight:700;letter-spacing:0.500px;-webkit-text-stroke-width:0.2px;text-shadow:0 0 2px rgba(22,6,26,0.55);">166mg</div>
<div class="t" style="left:773.50px;top:831.65px;font-size:29px;line-height:29px;font-weight:700;letter-spacing:0.500px;-webkit-text-stroke-width:0.2px;text-shadow:0 0 2px rgba(22,6,26,0.55);">20mg</div>
<div class="t" style="left:962.50px;top:831.65px;font-size:29px;line-height:29px;font-weight:700;letter-spacing:0.500px;-webkit-text-stroke-width:0.2px;text-shadow:0 0 2px rgba(22,6,26,0.55);">40mg</div>
<div class="t" style="left:1053.30px;top:831.65px;font-size:29px;line-height:29px;font-weight:700;letter-spacing:1.822px;-webkit-text-stroke-width:1.0px;text-shadow:0.50px 0 0 currentColor,-0.50px 0 0 currentColor,0.70px 0 0 currentColor,-0.70px 0 0 currentColor,0 0 2px rgba(22,6,26,0.55);display:inline-block;transform:scaleX(1.0600);transform-origin:0 50%;">2846<span class=pc>%</span></div>
<div class="t" style="left:670.50px;top:870.95px;font-size:29px;line-height:29px;font-weight:700;letter-spacing:0.500px;-webkit-text-stroke-width:0.2px;text-shadow:0 0 2px rgba(22,6,26,0.55);">3,3mg</div>
<div class="t" style="left:774.50px;top:870.95px;font-size:29px;line-height:29px;font-weight:700;letter-spacing:0.500px;-webkit-text-stroke-width:0.2px;text-shadow:0 0 2px rgba(22,6,26,0.55);">400µg</div>
<div class="t" style="left:961.50px;top:870.95px;font-size:29px;line-height:29px;font-weight:700;letter-spacing:0.500px;-webkit-text-stroke-width:0.2px;text-shadow:0 0 2px rgba(22,6,26,0.55);">800µg</div>
<div class="t" style="left:1073.30px;top:870.95px;font-size:29px;line-height:29px;font-weight:700;letter-spacing:1.400px;-webkit-text-stroke-width:1.0px;text-shadow:0.50px 0 0 currentColor,-0.50px 0 0 currentColor,0.70px 0 0 currentColor,-0.70px 0 0 currentColor,0 0 2px rgba(22,6,26,0.55);display:inline-block;transform:scaleX(1.0600);transform-origin:0 50%;">400<span class=pc>%</span></div>
<div class="t" style="left:670.50px;top:911.55px;font-size:29px;line-height:29px;font-weight:700;letter-spacing:0.500px;-webkit-text-stroke-width:0.2px;text-shadow:0 0 2px rgba(22,6,26,0.55);">417µg</div>
<div class="t" style="left:773.50px;top:911.55px;font-size:29px;line-height:29px;font-weight:700;letter-spacing:0.500px;-webkit-text-stroke-width:0.2px;text-shadow:0 0 2px rgba(22,6,26,0.55);">50µg</div>
<div class="t" style="left:961.50px;top:911.55px;font-size:29px;line-height:29px;font-weight:700;letter-spacing:0.500px;-webkit-text-stroke-width:0.2px;text-shadow:0 0 2px rgba(22,6,26,0.55);">100µg</div>
<div class="t" style="left:1055.30px;top:911.55px;font-size:29px;line-height:29px;font-weight:700;letter-spacing:1.444px;-webkit-text-stroke-width:1.0px;text-shadow:0.50px 0 0 currentColor,-0.50px 0 0 currentColor,0.70px 0 0 currentColor,-0.70px 0 0 currentColor,0 0 2px rgba(22,6,26,0.55);display:inline-block;transform:scaleX(1.0600);transform-origin:0 50%;">6672<span class=pc>%</span></div>
<div class="t" style="left:670.50px;top:954.65px;font-size:29px;line-height:29px;font-weight:700;letter-spacing:0.500px;-webkit-text-stroke-width:0.2px;text-shadow:0 0 2px rgba(22,6,26,0.55);">42mg</div>
<div class="t" style="left:773.50px;top:954.65px;font-size:29px;line-height:29px;font-weight:700;letter-spacing:0.500px;-webkit-text-stroke-width:0.2px;text-shadow:0 0 2px rgba(22,6,26,0.55);">5mg</div>
<div class="t" style="left:961.50px;top:954.65px;font-size:29px;line-height:29px;font-weight:700;letter-spacing:0.500px;-webkit-text-stroke-width:0.2px;text-shadow:0 0 2px rgba(22,6,26,0.55);">10mg</div>
<div class="t" style="left:1137.70px;top:954.20px;font-size:34px;line-height:34px;font-weight:700;font-family:'DejaVu Sans',sans-serif;-webkit-text-stroke-width:0.3px;text-shadow:0 0 2px rgba(22,6,26,0.55);display:inline-block;transform:scaleX(1.1400);transform-origin:0 50%;">†</div>
<div class="t" style="left:670.50px;top:996.45px;font-size:29px;line-height:29px;font-weight:700;letter-spacing:0.500px;-webkit-text-stroke-width:0.2px;text-shadow:0 0 2px rgba(22,6,26,0.55);">42mg</div>
<div class="t" style="left:773.50px;top:996.45px;font-size:29px;line-height:29px;font-weight:700;letter-spacing:0.500px;-webkit-text-stroke-width:0.2px;text-shadow:0 0 2px rgba(22,6,26,0.55);">5mg</div>
<div class="t" style="left:961.50px;top:996.45px;font-size:29px;line-height:29px;font-weight:700;letter-spacing:0.500px;-webkit-text-stroke-width:0.2px;text-shadow:0 0 2px rgba(22,6,26,0.55);">10mg</div>
<div class="t" style="left:1137.70px;top:996.00px;font-size:34px;line-height:34px;font-weight:700;font-family:'DejaVu Sans',sans-serif;-webkit-text-stroke-width:0.3px;text-shadow:0 0 2px rgba(22,6,26,0.55);display:inline-block;transform:scaleX(1.1400);transform-origin:0 50%;">†</div>
<div class="t" style="left:17.70px;top:1049.43px;font-size:24.3px;line-height:24.3px;font-weight:400;letter-spacing:0.750px;-webkit-text-stroke-width:0.15px;text-shadow:0 0 2px rgba(22,6,26,0.55);">*The % Daily Value (DV) tells you how much a nutrient in a serving of food contributes to a daily</div>
<div class="t" style="left:16.90px;top:1076.13px;font-size:24.3px;line-height:24.3px;font-weight:400;letter-spacing:0.771px;-webkit-text-stroke-width:0.15px;text-shadow:0 0 2px rgba(22,6,26,0.55);">diet. 2,000 calories a day is used for general nutrition advice.</div>
<div class="t" style="left:16.70px;top:1102.43px;font-size:24.3px;line-height:24.3px;font-weight:400;letter-spacing:0.683px;-webkit-text-stroke-width:0.15px;text-shadow:0 0 2px rgba(22,6,26,0.55);">† Daily Value not established.</div>
<div class="r" style="left:1019px;top:770px;width:8px;height:8px;background:#b9dfb0"></div>
<div class="r" style="left:1021px;top:772px;width:4px;height:4px;background:#d2fbc8"></div>
</body></html>
